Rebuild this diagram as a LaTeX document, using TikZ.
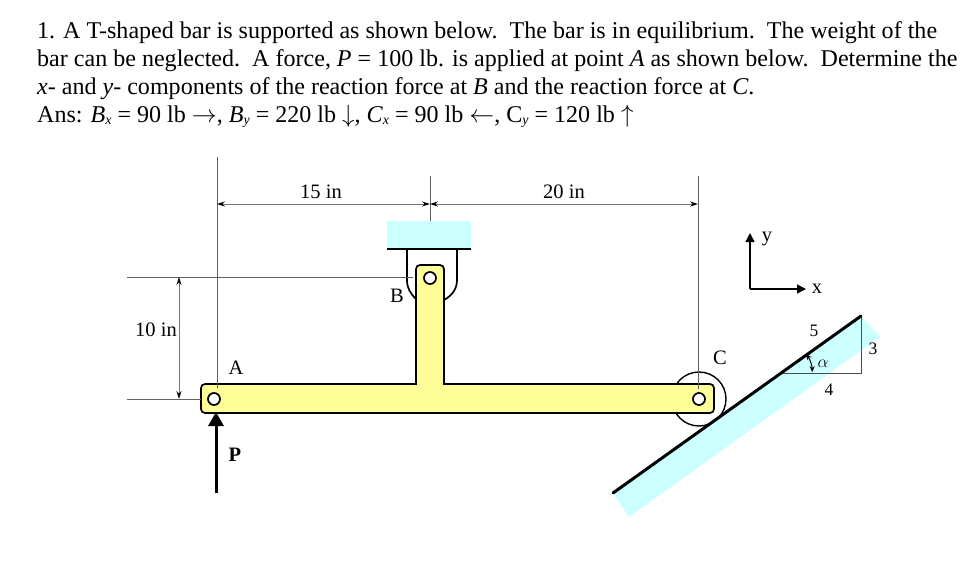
\documentclass[tikz,border=0pt]{standalone}
\usepackage{fontspec}
\setmainfont{Liberation Serif}
\usetikzlibrary{arrows.meta}
\newcommand{\lowsub}[1]{\raisebox{-0.12em}{\fontsize{14}{14}\selectfont\textit{#1}}}
\tikzset{
  x=1pt,y=-1pt,
  body/.style={anchor=base west,inner sep=0pt,font=\fontsize{24.05}{28}\selectfont},
  lab/.style={inner sep=0pt,font=\fontsize{20.5}{24}\selectfont},
  smalllab/.style={inner sep=0pt,font=\fontsize{17.5}{20}\selectfont},
  ext/.style={draw=black!62,line width=1pt},
  dimline/.style={draw=black!55,line width=1pt,{Stealth[length=8pt,width=5pt,black]}-{Stealth[length=8pt,width=5pt,black]}},
  partline/.style={draw=black,line width=1.7pt},
  pin/.style={circle,draw=black,fill=white,line width=1.7pt,minimum size=12pt,inner sep=0pt},
  bigarrow/.style={draw=black,line width=3pt,-{Triangle[length=14pt,width=15pt]}},
  axisarrow/.style={draw=black,line width=1.5pt,-{Triangle[length=9pt,width=9pt]}},
  thinline/.style={draw=black!70,line width=1pt}
}
\definecolor{baryellow}{HTML}{FFFF99}
\definecolor{paleblue}{HTML}{CCFFFF}
\begin{document}
\begin{tikzpicture}
\useasboundingbox (0,0) rectangle (971,565);
% statement
\node[body] (t1) at (37,38) {1. A T-shaped bar is supported as shown below.\ \ The bar is in equilibrium.\ \ The weight of the};
\node[body] (t2) at (37,66) {bar can be neglected.\ \ A force, \textit{P} = 100 lb. is applied at point \textit{A} as shown below.\ \ Determine the};
\node[body] (t3) at (37,94) {\textit{x}- and \textit{y}- components of the reaction force at \textit{B} and the reaction force at \textit{C}.};
\node[body] (t4) at (37,122) {Ans: \textit{B}\lowsub{x} = 90 lb $\rightarrow$, \textit{B}\lowsub{y} = 220 lb $\downarrow$, \textit{C}\lowsub{x} = 90 lb $\leftarrow$, C\lowsub{y} = 120 lb $\uparrow$};
% incline
\fill[paleblue] (613,493) -- (861,316) -- (880,337) -- (629,517) -- cycle;
% slope triangle
\coordinate (s0) at (782,373);
\coordinate (s1) at (861,373);
\coordinate (s2) at (861,316);
\coordinate (s3) at (613,493);
\draw[thinline] (s0) -- (s1) -- (s2);
\draw[line width=3pt,black,line cap=round] (s3) -- (s2);
\draw[line width=1pt,{Stealth[length=6pt,width=5pt]}-{Stealth[length=6pt,width=5pt]}] (806,354) arc[start angle=-37,end angle=-1,radius=31];
% roller
\node[circle,draw=black,line width=1.4pt,minimum size=54pt,inner sep=0pt] (roller) at (699,399) {};
% support B
\fill[paleblue] (387,221) rectangle (471,249);
\coordinate (wl) at (387,249);
\coordinate (wr) at (471,249);
\draw[line width=1.8pt] (wl) -- (wr);
\draw[partline] (407,249) -- (407,280) .. controls (407,288) and (410,293) .. (416,299);
\draw[partline] (457,249) -- (457,280) .. controls (457,288) and (453,295) .. (444,300);
% T-bar
\draw[partline,fill=baryellow]
  (201,388) arc[start angle=180,end angle=270,radius=4] -- (416,384) -- (416,269) arc[start angle=180,end angle=270,radius=4]
  -- (440,265) arc[start angle=270,end angle=360,radius=4] -- (444,384) -- (710,384) arc[start angle=270,end angle=360,radius=4]
  -- (714,409) arc[start angle=0,end angle=90,radius=4] -- (205,413) arc[start angle=90,end angle=180,radius=4] -- cycle;
% pins
\node[pin] (A) at (214,399) {};
\node[pin] (B) at (430,278) {};
\node[pin] (C) at (699,399) {};
% dimension lines
\coordinate (e1) at (217,157);
\coordinate (e1b) at (217,388);
\coordinate (e2) at (430,176);
\coordinate (e2b) at (430,221);
\coordinate (e3) at (698,176);
\coordinate (e3b) at (698,389);
\draw[ext] (e1) -- (e1b);
\draw[ext] (e2) -- (e2b);
\draw[ext] (e3) -- (e3b);
\coordinate (d1) at (217,204);
\coordinate (d2) at (430,204);
\coordinate (d3) at (698,204);
\draw[dimline] (d1) -- (d2);
\draw[dimline] (d2) -- (d3);
\coordinate (h1) at (127,277);
\coordinate (h1b) at (413,277);
\coordinate (h2) at (127,399);
\coordinate (h2b) at (201,399);
\draw[ext] (h1) -- (h1b);
\draw[ext] (h2) -- (h2b);
\coordinate (v1) at (179,277);
\coordinate (v2) at (179,399);
\draw[dimline] (v1) -- (v2);
% load
\coordinate (pstart) at (216,493);
\draw[bigarrow] (pstart) -- (216,412);
% axes
\coordinate (o) at (750,289);
\coordinate (oy) at (750,233);
\coordinate (ox) at (806,289);
\draw[axisarrow] (o) -- (oy);
\draw[axisarrow] (o) -- (ox);
% labels
\node[lab] (l15) at (321,192) {15 in};
\node[lab] (l20) at (564,192) {20 in};
\node[lab] (l10) at (156,330) {10 in};
\node[lab] (lB) at (397,296) {B};
\node[lab] (lA) at (236,368) {A};
\node[lab,font=\fontsize{20.5}{24}\selectfont\bfseries] (lP) at (235,455) {P};
\node[lab] (lC) at (720,358) {C};
\node[lab,anchor=base] (ly) at (767,241) {y};
\node[lab,anchor=base] (lx) at (817,293) {x};
\node[smalllab] (n5) at (814,331) {5};
\node[smalllab] (n3) at (873,349) {3};
\node[smalllab] (n4) at (829,390) {4};
\node[smalllab,font=\fontsize{19}{20}\selectfont] (na) at (823,364) {$\alpha$};
\end{tikzpicture}
\end{document}
